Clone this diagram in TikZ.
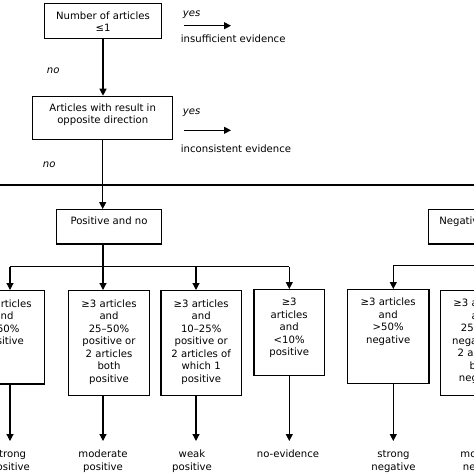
\documentclass[tikz,border=0pt]{standalone}
\usepackage{fontspec}
\setmainfont{DejaVu Sans}
\usetikzlibrary{arrows.meta}
\newcommand\bxt[4]{\parbox[c][#2pt][t]{#1pt}{\centering\rule{0pt}{#3pt}#4}}
\begin{document}
\begin{tikzpicture}[x=1pt,y=-1pt,
  every node/.style={font=\fontsize{10.1}{12.5}\selectfont, text=black},
  box/.style={draw, line width=1.2pt, inner sep=0pt, anchor=north},
  ln/.style={line width=1.2pt},
  arr/.style={line width=1.2pt, -{Triangle[width=7pt,length=7pt]}},
  lbl/.style={inner sep=0pt, align=center, anchor=north, font=\fontsize{10.1}{12.3}\selectfont},
  plain/.style={inner sep=0pt, anchor=base west},
  yn/.style={inner sep=0pt, anchor=base west, font=\fontsize{10.1}{12.5}\selectfont\itshape},
]
\useasboundingbox (0,0) rectangle (474,474);
\clip (0,0) rectangle (474,474);

% decision boxes
\node[box] (q1) at (103,3) {\bxt{117}{34.5}{15.7}{Number of articles\\≤1}};
\node[box] (q2) at (102.7,95.7) {\bxt{140}{43.3}{15.4}{Articles with result in\\[-1pt]opposite direction}};
\node[box] (pos) at (109,209) {\bxt{105.4}{34.3}{15}{Positive and no}};
\node[box] (neg) at (481,209) {\bxt{105.4}{34.3}{15}{Negative and no}};

% criteria boxes
\node[box] (b1) at (4,290) {\bxt{81.7}{93.3}{16.7}{≥3 articles\\and\\>50\%\\positive}};
\node[box] (b2) at (109,290) {\bxt{81.4}{105}{16.7}{≥3 articles\\and\\25–50\%\\positive or\\2 articles\\both\\positive}};
\node[box] (b3) at (201.2,290) {\bxt{80.3}{105}{16.7}{≥3 articles\\and\\10–25\%\\positive or\\2 articles of\\which 1\\positive}};
\node[box] (b4) at (289.2,289) {\bxt{70.3}{86}{16}{≥3\\articles\\and\\<10\%\\positive}};
\node[box] (b5) at (388.2,289) {\bxt{81.7}{93.7}{16}{≥3 articles\\and\\>50\%\\negative}};
\node[box] (b6) at (481,290) {\bxt{81}{105}{16}{≥3 articles\\and\\25–50\%\\negative or\\2 articles\\both\\negative}};

% outcome labels
\node[lbl] (l1) at (10,441) {\rule{0pt}{16.7pt}strong\\positive};
\node[lbl] (l2) at (103,441) {\rule{0pt}{16.7pt}moderate\\positive};
\node[lbl] (l3) at (192,441) {\rule{0pt}{16.7pt}weak\\positive};
\node[lbl] (l4) at (288,441) {\rule{0pt}{16.7pt}no-evidence};
\node[lbl] (l5) at (393.5,441) {\rule{0pt}{16.7pt}strong\\negative};
\node[lbl] (l6) at (485,441) {\rule{0pt}{16.7pt}moderate\\negative};

% yes / no texts
\node[yn] (yes1) at (182.7,16.5) {yes};
\node[yn] (yes2) at (182.7,114) {yes};
\node[plain] (ie) at (180.7,42.3) {insufficient evidence};
\node[plain] (ce) at (180.7,152.3) {inconsistent evidence};
\node[yn] (no1) at (46.7,73.3) {no};
\node[yn] (no2) at (42.7,167.3) {no};

% coordinates
\coordinate (y1s) at (184,25.7);
\coordinate (y1e) at (231,25.7);
\coordinate (y2s) at (184,130.3);
\coordinate (y2e) at (231,130.3);
\coordinate (hl) at (-5,185);
\coordinate (hr) at (480,185);
\coordinate (a1) at (10,266.7);
\coordinate (a2) at (103,266.7);
\coordinate (a3) at (196,266.7);
\coordinate (a4) at (289.3,266.7);
\coordinate (c1) at (393.3,265.7);
\coordinate (c2) at (485,265.7);
\coordinate (c3) at (580,265.7);

% connectors
\draw[arr] (y1s) -- (y1e);
\draw[arr] (y2s) -- (y2e);
\draw[ln] (hl) -- (hr);
\draw[arr] (q1.south) -- (q1.south |- q2.north);
\draw[arr] (q2.south) -- (q2.south |- pos.north);
\draw[ln] (pos.south -| a2) -- (a2);
\draw[ln] (a1) -- (a4);
\draw[arr] (a1) -- (a1 |- b1.north);
\draw[arr] (a2) -- (a2 |- b2.north);
\draw[arr] (a3) -- (a3 |- b3.north);
\draw[arr] (a4) -- (a4 |- b4.north);
\draw[ln] (neg.south -| c2) -- (c2);
\draw[ln] (c1) -- (c3);
\draw[arr] (c1) -- (c1 |- b5.north);
\draw[arr] (c2) -- (c2 |- b6.north);

\draw[arr] (b1.south -| a1) -- (a1 |- l1.north);
\draw[arr] (b2.south -| a2) -- (a2 |- l2.north);
\draw[arr] (b3.south -| a3) -- (a3 |- l3.north);
\draw[arr] (b4.south -| a4) -- (a4 |- l4.north);
\draw[arr] (b5.south -| c1) -- (c1 |- l5.north);
\draw[arr] (b6.south -| c2) -- (c2 |- l6.north);
\end{tikzpicture}
\end{document}
